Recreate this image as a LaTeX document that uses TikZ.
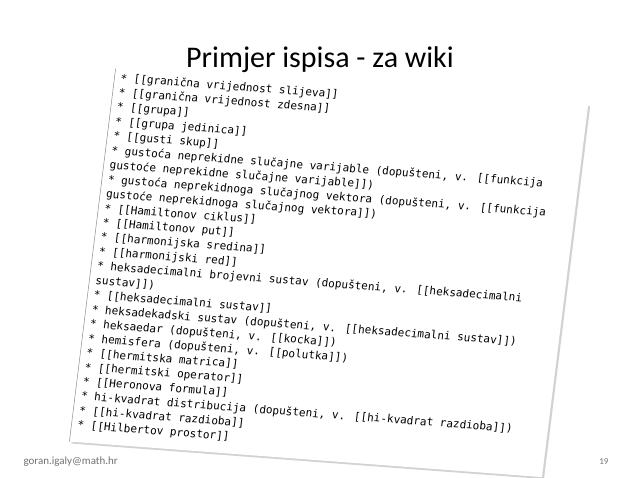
\documentclass[tikz,border=0pt]{standalone}
\usepackage{fontspec}
\setmainfont{Carlito}
\newfontfamily\codefont{DejaVu Sans Mono}
\usetikzlibrary{shadows}
\begin{document}
\begin{tikzpicture}[x=1pt,y=1pt,
  codeline/.style={anchor=base west,inner sep=0pt,font=\codefont\fontsize{11}{12}\selectfont,transform shape}]
\useasboundingbox (0,0) rectangle (638,478);
\fill[white] (0,0) rectangle (638,478);
\node (title) at (320,418) {\fontsize{30}{34}\selectfont Primjer ispisa - za wiki};
\node[anchor=base west,text=black!55,font=\fontsize{11}{13}\selectfont] (mail) at (20,13) {goran.igaly@math.hr};
\node[anchor=base east,text=black!55,font=\fontsize{9}{11}\selectfont] (num) at (612,13) {19};
\begin{scope}[cm={0.997,-0.075,0.124,1,(120,396)}]
\fill[white,drop shadow={shadow xshift=2pt,shadow yshift=-2pt,opacity=0.35}] (-6,13) rectangle (468,-360);
\draw[black!45,line width=0.5pt] (-6,13) -- (-6,-360);
\foreach \t [count=\i from 0] in {
{* [[granična vrijednost slijeva]]},
{* [[granična vrijednost zdesna]]},
{* [[grupa]]},
{* [[grupa jedinica]]},
{* [[gusti skup]]},
{* gustoća neprekidne slučajne varijable (dopušteni, v. [[funkcija},
{gustoće neprekidne slučajne varijable]])},
{* gustoća neprekidnoga slučajnog vektora (dopušteni, v. [[funkcija},
{gustoće neprekidnoga slučajnog vektora]])},
{* [[Hamiltonov ciklus]]},
{* [[Hamiltonov put]]},
{* [[harmonijska sredina]]},
{* [[harmonijski red]]},
{* heksadecimalni brojevni sustav (dopušteni, v. [[heksadecimalni},
{sustav]])},
{* [[heksadecimalni sustav]]},
{* heksadekadski sustav (dopušteni, v. [[heksadecimalni sustav]])},
{* heksaedar (dopušteni, v. [[kocka]])},
{* hemisfera (dopušteni, v. [[polutka]])},
{* [[hermitska matrica]]},
{* [[hermitski operator]]},
{* [[Heronova formula]]},
{* hi-kvadrat distribucija (dopušteni, v. [[hi-kvadrat razdioba]])},
{* [[hi-kvadrat razdioba]]},
{* [[Hilbertov prostor]]}}
  \node[codeline] (l\i) at (0,-\i*14.45) {\t};
\end{scope}
\end{tikzpicture}
\end{document}
